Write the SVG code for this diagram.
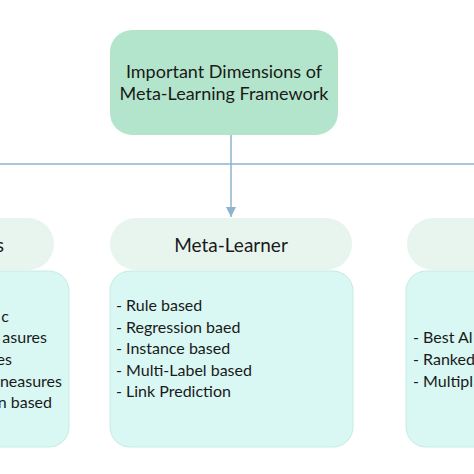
<svg xmlns="http://www.w3.org/2000/svg" width="474" height="474" viewBox="0 0 474 474">
<defs>
<style>
.t{font-family:Lato,"Liberation Sans",sans-serif;fill:#1a1a1a}
.title{font-size:18px}
.head{font-size:19px}
.item{font-size:16px}
.root{fill:#b2e5cb}
.pill{fill:#e8f5ee}
.body{fill:#d9f7f3;stroke:#c6ebe4;stroke-width:1}
.conn{stroke:#8cb4cc;stroke-width:1.5;fill:none}
</style>
<marker id="arr" viewBox="0 0 10 10" refX="10" refY="5" markerWidth="10" markerHeight="10" markerUnits="userSpaceOnUse" orient="auto">
<path d="M0,0 L10,5 L0,10 z" fill="#8cb4cc"/>
</marker>
</defs>
<rect width="474" height="474" fill="#ffffff"/>
<g id="connectors">
<line class="conn" x1="0" y1="164" x2="474" y2="164"/>
<line class="conn" x1="231" y1="135" x2="231" y2="217" marker-end="url(#arr)"/>
</g>
<g id="root">
<rect class="root" x="110" y="30" width="228" height="105" rx="22"/>
<text class="t title" x="224" y="78" text-anchor="middle">Important Dimensions of</text>
<text class="t title" x="224" y="100" text-anchor="middle">Meta-Learning Framework</text>
</g>
<g id="left-header">
<rect class="pill" x="-60" y="218" width="114" height="52" rx="26"/>
<text class="t head" x="4" y="252" text-anchor="end">s</text>
</g>
<g id="left-body">
<rect class="body" x="-60" y="271" width="129" height="176" rx="20"/>
<text class="t item" x="9" y="322" text-anchor="end">c</text>
<text class="t item" x="47" y="343" text-anchor="end">asures</text>
<text class="t item" x="12" y="365" text-anchor="end">es</text>
<text class="t item" x="62" y="387" text-anchor="end">neasures</text>
<text class="t item" x="52" y="408" text-anchor="end">n based</text>
</g>
<g id="meta-learner-header">
<rect class="pill" x="110" y="218" width="242" height="52" rx="26"/>
<text class="t head" x="231" y="252" text-anchor="middle">Meta-Learner</text>
</g>
<g id="meta-learner-body">
<rect class="body" x="110" y="271" width="243" height="176" rx="20"/>
<text class="t item" x="116" y="311">- Rule based</text>
<text class="t item" x="116" y="333">- Regression baed</text>
<text class="t item" x="116" y="354">- Instance based</text>
<text class="t item" x="116" y="376">- Multi-Label based</text>
<text class="t item" x="116" y="397">- Link Prediction</text>
</g>
<g id="right-header">
<rect class="pill" x="407" y="218" width="120" height="52" rx="26"/>
</g>
<g id="right-body">
<rect class="body" x="406" y="271" width="129" height="176" rx="20"/>
<text class="t item" x="413" y="343">- Best Al</text>
<text class="t item" x="413" y="365">- Ranked</text>
<text class="t item" x="413" y="387">- Multipl</text>
</g>
</svg>
